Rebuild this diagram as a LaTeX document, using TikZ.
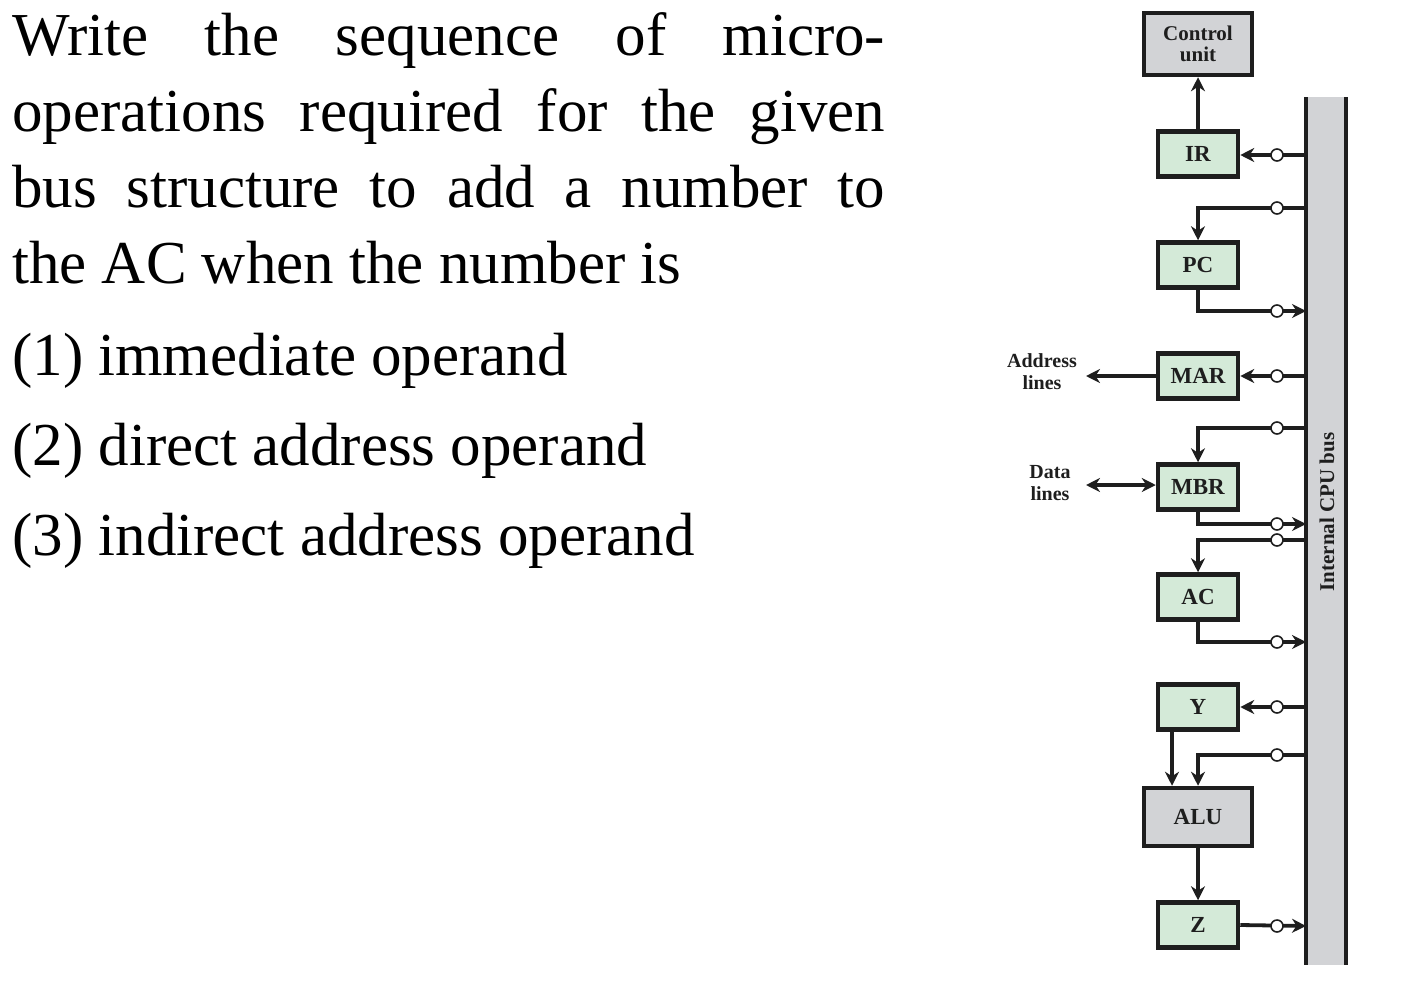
\documentclass[tikz,border=0pt]{standalone}
\usepackage{fontspec}
\setmainfont{Liberation Serif}
\usetikzlibrary{arrows.meta}
\definecolor{boxg}{RGB}{212,234,216}
\definecolor{gry}{RGB}{210,211,214}
\definecolor{ink}{RGB}{30,30,30}
\begin{document}
\begin{tikzpicture}[x=1pt,y=-1pt,
  reg/.style={draw=ink,line width=4.5pt,fill=boxg,minimum width=80pt,minimum height=45pt,inner sep=0pt,font=\fontsize{23}{23}\selectfont\bfseries,text=ink},
  gbox/.style={reg,fill=gry,minimum width=108pt},
  wire/.style={draw=ink,line width=3.8pt},
  arr/.style={wire,-{Stealth[length=14pt,width=14pt]}},
  sw/.style={circle,draw=ink,line width=1.6pt,fill=white,minimum size=12pt,inner sep=0pt},
  lbl/.style={font=\fontsize{21}{22}\selectfont\bfseries,text=ink,align=center}]
\useasboundingbox (0,0) rectangle (1408,980);
\node[anchor=north west,inner sep=0pt,text width=873pt,align=justify,font=\fontsize{61}{76}\selectfont] (q) at (12,12)
{Write the sequence of micro-\linebreak operations required for the given\linebreak bus structure to add a number to\linebreak the AC when the number is\par\vspace{16pt}
(1) immediate operand\par\vspace{14pt}
(2) direct address operand\par\vspace{14pt}
(3) indirect address operand};
% bus
\fill[gry] (1306,97) rectangle (1346,965);
\draw[ink,line width=4.5pt] (1306,97) -- (1306,965) (1346,97) -- (1346,965);
\node[lbl,rotate=90] (busl) at (1327,512) {Internal CPU bus};
% boxes
\node[gbox,minimum height=62pt,font=\fontsize{21}{22}\selectfont\bfseries,align=center] (cu) at (1198,44) {Control\\[-1pt]unit};
\node[reg] (ir) at (1198,154) {IR};
\node[reg] (pc) at (1198,265) {PC};
\node[reg] (mar) at (1198,376) {MAR};
\node[reg] (mbr) at (1198,487) {MBR};
\node[reg] (ac) at (1198,597) {AC};
\node[reg] (y) at (1198,707) {Y};
\node[gbox,minimum height=58pt] (alu) at (1198,817) {ALU};
\node[reg] (z) at (1198,925) {Z};
\node[lbl,font=\fontsize{20}{24}\selectfont\bfseries] (adl) at (1042,372) {Address\\[-2pt]lines};
\node[lbl,font=\fontsize{20}{24}\selectfont\bfseries] (dal) at (1050,483) {Data\\[-2pt]lines};
\coordinate (adE) at (1086,376);
\coordinate (daE) at (1086,485);
% connections
\draw[arr] (ir) -- (cu);
\draw[arr] (1306,155) -- (ir.east|-0,155);
\node[sw] (s1) at (1277,155) {};
\draw[arr] (1306,208) -| (pc.north);
\node[sw] (s2) at (1277,208) {};
\draw[arr] (pc.south) |- (1306,311);
\node[sw] (s3) at (1277,311) {};
\draw[arr] (1306,376) -- (mar.east);
\node[sw] (s4) at (1277,376) {};
\draw[arr] (mar.west) -- (adE);
\draw[wire,{Stealth[length=14pt,width=14pt]}-{Stealth[length=14pt,width=14pt]}] (daE) -- (mbr.west|-daE);
\draw[arr] (1306,428) -| (mbr.north);
\node[sw] (s5) at (1277,428) {};
\draw[arr] (mbr.south) |- (1306,524);
\node[sw] (s6) at (1277,524) {};
\draw[arr] (1306,540) -| (ac.north);
\node[sw] (s7) at (1277,540) {};
\draw[arr] (ac.south) |- (1306,642);
\node[sw] (s8) at (1277,642) {};
\draw[arr] (1306,707) -- (y.east);
\node[sw] (s9) at (1277,707) {};
\draw[arr] (1306,755) -| (alu.north);
\node[sw] (s10) at (1277,755) {};
\draw[arr] (y.south-|1172,0) -- (alu.north-|1172,0);
\draw[arr] (alu) -- (z);
\draw[arr] (z.east) -- (1306,926);
\node[sw] (s11) at (1277,926) {};
\end{tikzpicture}
\end{document}
